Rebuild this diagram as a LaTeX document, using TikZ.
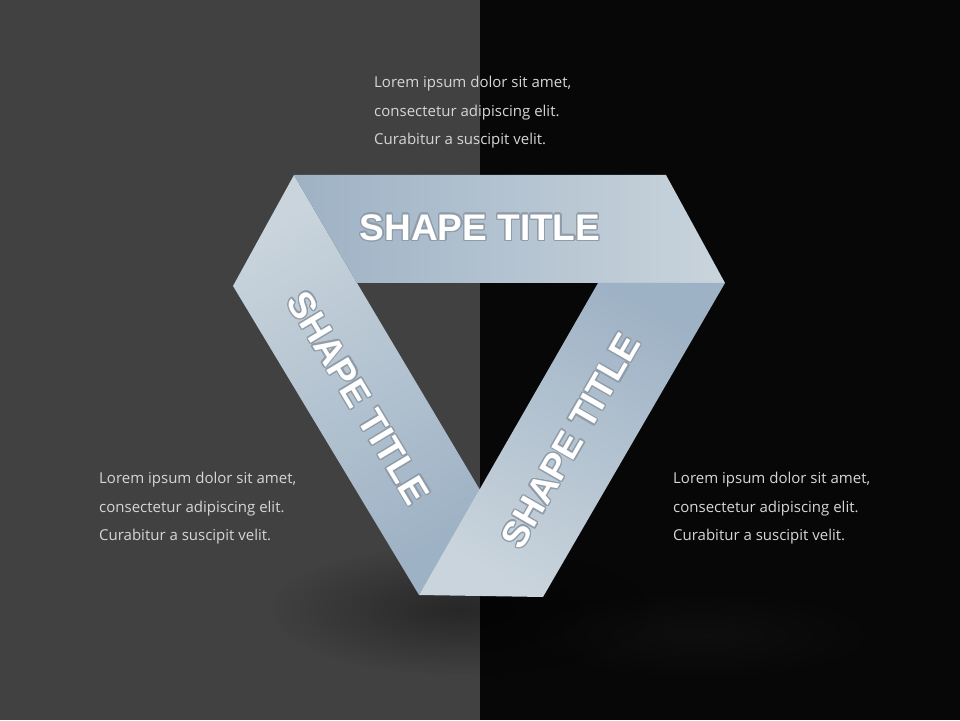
\documentclass[tikz,border=0pt]{standalone}
\usepackage{fontspec}
\setmainfont{Open Sans}
\newfontfamily\titlefont{Liberation Sans}
\usepackage{contour}
\usepackage{tikz}
\usetikzlibrary{fadings}
\usetikzlibrary{positioning}

\definecolor{leftbg}{HTML}{414141}
\definecolor{rightbg}{HTML}{070707}
\definecolor{bandDark}{HTML}{9EB2C5}
\definecolor{bandLight}{HTML}{C9D4DC}
\definecolor{glowgrey}{HTML}{909DA9}
\definecolor{bodygrey}{HTML}{D6D6D6}
\contourlength{1.3pt}

\tikzfading[name=softspot, inner color=transparent!0, outer color=transparent!100]

\tikzset{
  bandtitle/.style={font=\titlefont\bfseries\fontsize{37}{40}\selectfont, text=white, inner sep=0pt},
  bodytext/.style={font=\fontsize{15}{28.5}\selectfont, text=bodygrey, align=left, anchor=north west, inner sep=0pt}
}

\begin{document}
\begin{tikzpicture}[x=1pt,y=1pt]
        % Folded triangle of three bands on a split background
        \useasboundingbox (0,0) rectangle (960,720);
        \fill[leftbg] (0,0) rectangle (480,720);
        \fill[rightbg] (480,0) rectangle (960,720);
        \fill[black,opacity=0.4,path fading=softspot] (460,110) ellipse (190 and 65);
        \fill[white,opacity=0.03,path fading=softspot] (700,85) ellipse (200 and 50);

        \coordinate (topleft) at (294,545);
        \coordinate (topright) at (666,545);
        \coordinate (rightcorner) at (725,437);
        \coordinate (innerleft) at (357,437);
        \coordinate (innerright) at (598,437);
        \coordinate (leftcorner) at (233,434);
        \coordinate (bottomleft) at (419,125);
        \coordinate (bottomright) at (543,123);
        \coordinate (crossing) at (480,230);

        \shade[top color=bandLight,bottom color=bandDark,shading angle=31]
            (topleft) -- (leftcorner) -- (bottomleft) -- (crossing) -- (innerleft) -- cycle;
        \shade[left color=bandDark,right color=bandLight]
            (topleft) -- (topright) -- (rightcorner) -- (innerleft) -- cycle;
        \shade[top color=bandDark,bottom color=bandLight,shading angle=-30]
            (innerright) -- (rightcorner) -- (bottomright) -- (bottomleft) -- cycle;

        \node[bandtitle] (toptitle) at (480,492) {\contour{glowgrey}{SHAPE TITLE}};
        \node[bandtitle,rotate=-59] (lefttitle) at (358,322) {\contour{glowgrey}{SHAPE TITLE}};
        \node[bandtitle,rotate=60] (righttitle) at (571,279) {\contour{glowgrey}{SHAPE TITLE}};

        \node[bodytext] (toptext) at (374,644) {Lorem ipsum dolor sit amet,\\consectetur adipiscing elit.\\Curabitur a suscipit velit.};
        \node[bodytext] (lefttext) at (99,248) {Lorem ipsum dolor sit amet,\\consectetur adipiscing elit.\\Curabitur a suscipit velit.};
        \node[bodytext] (righttext) at (673,248) {Lorem ipsum dolor sit amet,\\consectetur adipiscing elit.\\Curabitur a suscipit velit.};
    \end{tikzpicture}
\end{document}
